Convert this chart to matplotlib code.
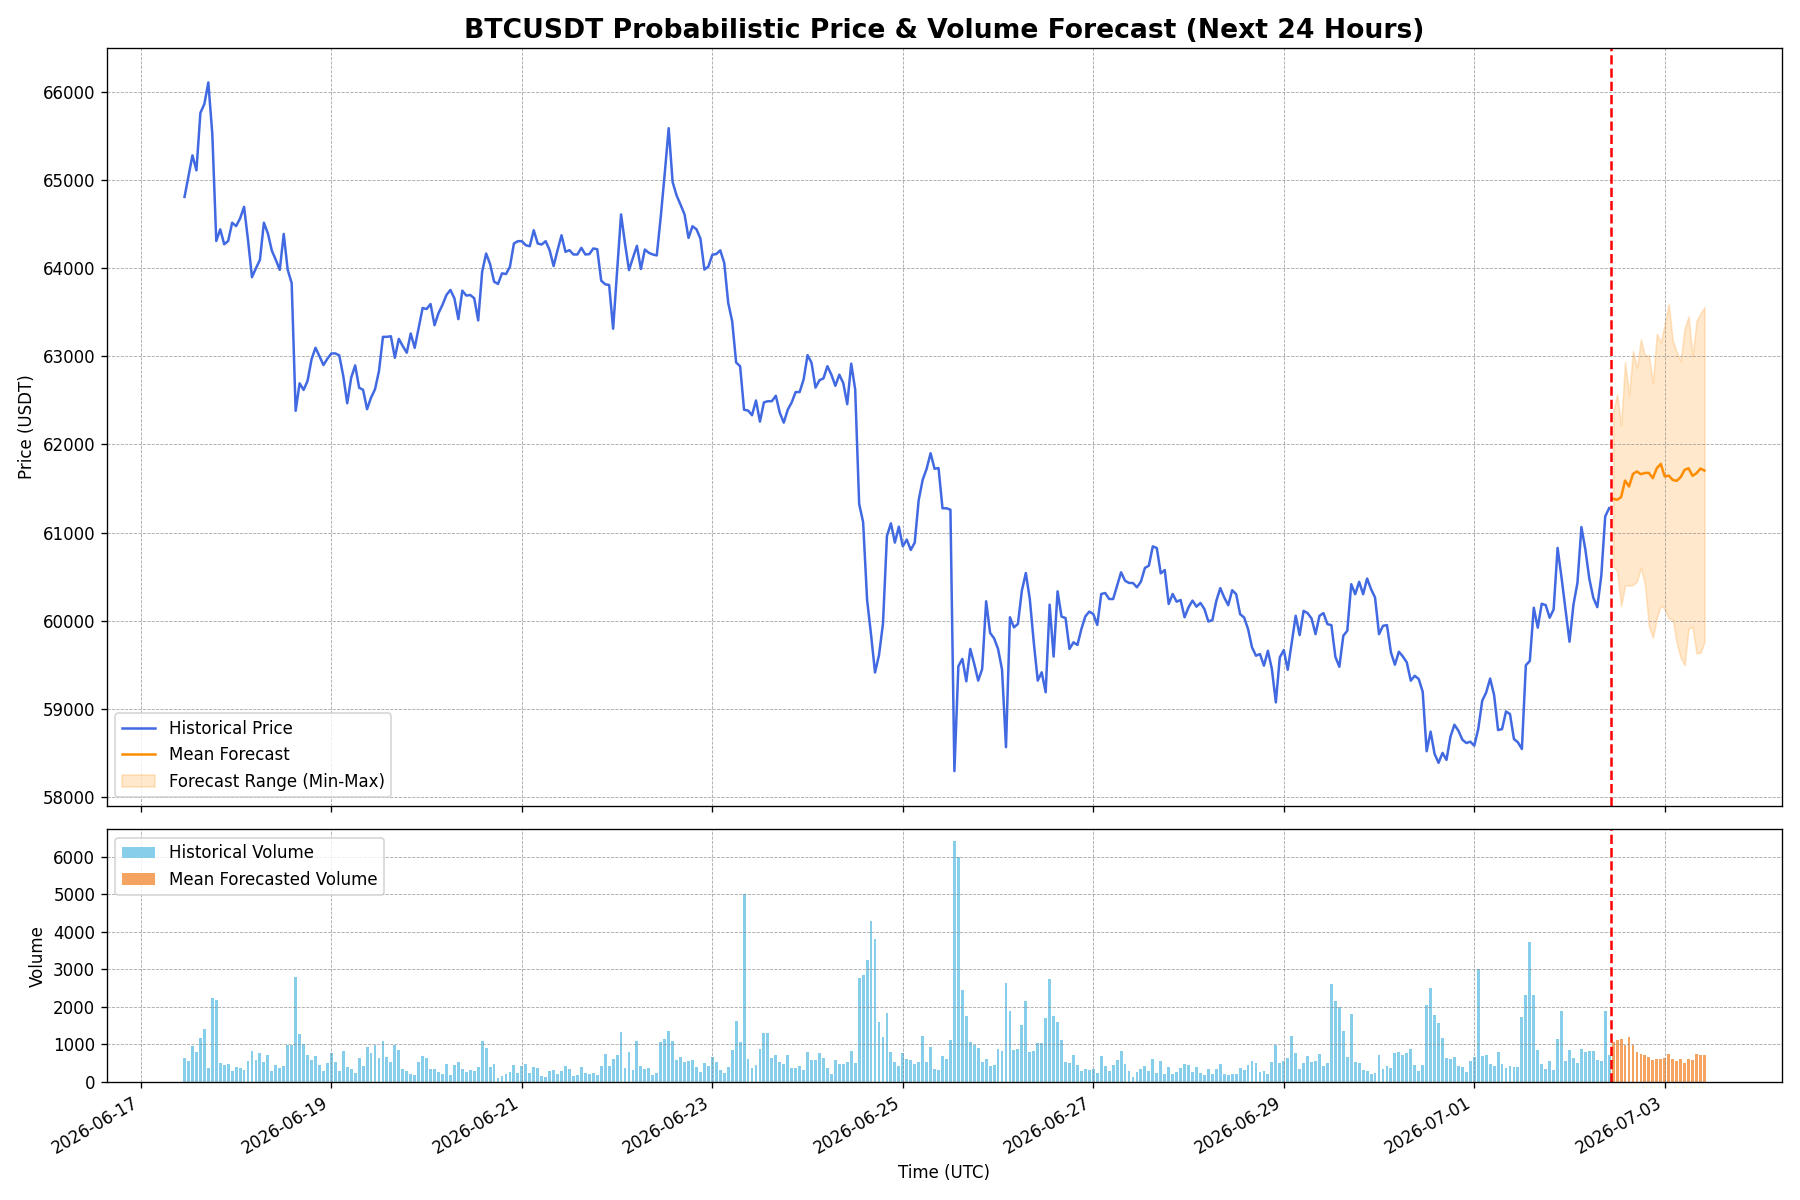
import numpy as np
import pandas as pd
import matplotlib
matplotlib.use('Agg')
import matplotlib.pyplot as plt

# ==== DATA ====
hist_start = '2026-06-17 11:00'

hist_price = [
    64807, 65044, 65278, 65108, 65759, 65861, 66105, 65522, 64307, 64439,
    64270, 64307, 64514, 64476, 64563, 64694, 64318, 63897, 63998, 64093,
    64514, 64394, 64198, 64093, 63980, 64387, 63980, 63829, 62381, 62693,
    62618, 62720, 62964, 63096, 63001, 62900, 62972, 63032, 63032, 63009,
    62776, 62467, 62757, 62896, 62644, 62618, 62400, 62531, 62625, 62832,
    63220, 63220, 63227, 62983, 63197, 63115, 63040, 63258, 63096, 63322,
    63547, 63536, 63592, 63352,
    63489, 63583, 63695, 63752, 63658, 63421, 63744, 63688, 63695, 63658,
    63406, 63959, 64165, 64045, 63846, 63820, 63940, 63932, 64015, 64278,
    64305, 64305, 64259, 64248, 64429, 64278, 64267, 64305, 64203, 64023,
    64203, 64372, 64184, 64203, 64154, 64154, 64229, 64154, 64158, 64222,
    64214, 63857, 63816, 63808, 63312, 63960, 64609, 64278, 63977, 64117,
    64252, 63989, 64210, 64173, 64154, 64143, 64579, 65068, 65586, 64974,
    64823, 64718, 64609, 64342, 64474, 64440, 64335,
    63983, 64017, 64151, 64159, 64201, 64059, 63607, 63397, 62929, 62887,
    62393, 62385, 62331, 62498, 62259, 62477, 62490, 62490, 62552, 62360,
    62247, 62393, 62477, 62594, 62594, 62736, 63013, 62925, 62644, 62728,
    62749, 62887, 62791, 62665, 62791, 62695, 62456, 62916, 62623, 61326,
    61117, 60238, 59841, 59414, 59611, 59967, 60962, 61105, 60887, 61067,
    60845, 60921, 60803, 60887, 61368, 61598, 61724, 61900, 61724, 61732,
    61276, 61276, 61260,
    58295, 59484, 59568, 59314, 59681, 59511, 59322, 59454, 60221, 59862,
    59802, 59681, 59447, 58567, 60040, 59926, 59964, 60342, 60542, 60247,
    59756, 59322, 59416, 59190, 60183, 59594, 60334, 60047, 60032, 59681,
    59756, 59726, 59907, 60051, 60104, 60077, 59953, 60304, 60315, 60247,
    60247, 60398, 60550, 60455, 60429, 60429, 60380, 60444, 60599, 60625,
    60844, 60825, 60538, 60576, 60191, 60304, 60217, 60236, 60040, 60153,
    60229, 60161, 60202, 60134,
    59992, 60008, 60226, 60370, 60264, 60177, 60347, 60302, 60075, 60038,
    59906, 59698, 59604, 59623, 59491, 59660, 59453, 59075, 59585, 59668,
    59445, 59755, 60057, 59838, 60113, 60087, 60026, 59849, 60057, 60087,
    59962, 59951, 59592, 59479, 59830, 59887, 60415, 60302, 60442, 60302,
    60479, 60358, 60264, 59849, 59943, 59951, 59642, 59502, 59649, 59596,
    59528, 59321, 59377, 59340, 59196, 58521, 58743, 58491, 58389, 58502,
    58423, 58686, 58821, 58754, 58652, 58614, 58629, 58584, 58772, 59093,
    59187, 59345, 59157, 58761, 58772, 58972, 58942, 58659, 58622, 58546,
    59496, 59545, 60148, 59922, 60193, 60178, 60035, 60129, 60826, 60487,
    60129, 59763, 60185, 60430, 61063, 60807, 60475, 60261, 60155, 60506,
    61184, 61278,
]

hist_volume = [
    630, 550, 949, 790, 1162, 1402, 364, 2227, 2174, 497,
    444, 470, 284, 390, 364, 311, 550, 816, 577, 763,
    524, 710, 284, 444, 364, 417, 985, 985, 2786, 1269,
    1003, 710, 577, 683, 444, 284, 497, 763, 524, 284,
    816, 390, 337, 231, 630, 417, 923, 763, 994, 630,
    1082, 657, 524, 994, 843, 337, 284, 204, 177, 524,
    683, 630, 337, 337, 257, 204, 470, 177, 444, 524,
    337, 257, 311, 284, 390, 1082, 896, 390, 470, 98,
    151, 204, 257, 444, 231, 417, 470, 231, 390, 364,
    151, 124, 284, 311, 204, 284, 417, 337, 151, 177,
    390, 231, 204, 231, 177, 417, 736, 417, 603, 710,
    1322, 364, 790, 311, 1082, 417, 337, 364, 177, 231,
    1056, 1136, 1349, 1082, 577, 657, 524,
    550, 577, 390, 257, 497, 417, 657, 524, 311, 231,
    390, 843, 1615, 1056, 4996, 603, 364, 444, 870, 1295,
    1295, 630, 710, 524, 470, 710, 364, 364, 417, 311,
    790, 577, 577, 763, 630, 364, 204, 577, 470, 470,
    524, 816, 497, 2760, 2839, 3239, 4277, 3798, 1588, 1189,
    1828, 790, 524, 417, 763, 603, 577, 470, 524, 1216,
    524, 923, 337, 311, 683, 603, 1109, 6406, 5998, 2440,
    1748, 1056, 994, 896, 524, 603, 417, 444, 870, 816,
    2626, 1881, 843, 870, 1508, 2147, 790, 816, 1029, 1029,
    1695, 2733, 1748, 1588, 1109, 524, 497, 710, 444, 284,
    337, 311, 337, 231, 683, 417, 284, 444, 577, 816,
    470, 284, 124, 257, 337, 417, 284, 603, 231, 550,
    204, 390, 204, 257, 364, 470, 444, 257, 390, 231,
    177,
    337, 204, 337, 470, 204, 177, 204, 204, 364, 311,
    444, 550, 497, 257, 284, 204, 524, 976, 497, 550,
    630, 1216, 763, 337, 497, 683, 524, 550, 736, 417,
    497, 2600, 2147, 1988, 1349, 657, 1801, 524, 497, 311,
    284, 204, 231, 710, 337, 417, 364, 763, 790, 710,
    763, 870, 444, 284, 444, 2041, 2493, 1775, 1562, 1162,
    630, 603, 657, 417, 390, 257, 550, 657, 2999, 683,
    710, 470, 417, 790, 470, 364, 417, 390, 390, 1721,
    2307, 3718, 2307, 843, 470, 337, 550, 311, 1136, 1881,
    550, 843, 630, 497, 870, 790, 816, 816, 577, 550,
    1881, 710,
]

fc_mean = [
    61384, 61372, 61402, 61590, 61523, 61666, 61693, 61662, 61677, 61677,
    61617, 61730, 61779, 61636, 61647, 61598, 61587, 61628, 61711, 61730,
    61644, 61674, 61726, 61704,
]
fc_max = [
    62371, 62570, 62220, 62936, 62559, 63060, 62872, 63192, 63011, 63011,
    62699, 63256, 63154, 63369, 63595, 63181, 63049, 62947, 63313, 63452,
    63000, 63399, 63482, 63558,
]
fc_min = [
    60619, 60562, 60167, 60400, 60400, 60404, 60449, 60600, 60411, 59940,
    59808, 60035, 60174, 60137, 60024, 60016, 59752, 59582, 59496, 59910,
    59929, 59631, 59639, 59759,
]
fc_volume = [
    1056, 1109, 1136, 976, 1189, 976, 790, 736, 710, 657,
    577, 603, 603, 630, 736, 603, 550, 603, 497, 603,
    577, 736, 710, 710,
]
# ========================

hist_t = pd.date_range(hist_start, periods=len(hist_price), freq='h')
fc_t = pd.date_range(hist_t[-1] + pd.Timedelta(hours=1), periods=len(fc_mean), freq='h')
split_t = hist_t[-1] + pd.Timedelta(minutes=30)

fig, (ax1, ax2) = plt.subplots(2, 1, figsize=(15, 10), dpi=120, sharex=True,
                               gridspec_kw={'height_ratios': [3, 1]})

# price panel
ax1.plot(hist_t, hist_price, color='royalblue', lw=1.5, label='Historical Price')
ax1.plot(fc_t, fc_mean, color='darkorange', lw=1.5, label='Mean Forecast')
ax1.fill_between(fc_t, fc_min, fc_max, color='darkorange', alpha=0.2,
                 label='Forecast Range (Min-Max)')
ax1.axvline(split_t, color='red', linestyle='--', lw=1.5)
ax1.set_title('BTCUSDT Probabilistic Price & Volume Forecast (Next 24 Hours)',
              fontsize=16, fontweight='bold')
ax1.set_ylabel('Price (USDT)')
ax1.grid(True, linestyle='--', linewidth=0.5, color='gray', alpha=0.7)
ax1.legend(loc='lower left')

# volume panel
ax2.bar(hist_t, hist_volume, width=0.03, color='skyblue', label='Historical Volume')
ax2.bar(fc_t, fc_volume, width=0.03, color='sandybrown', label='Mean Forecasted Volume')
ax2.axvline(split_t, color='red', linestyle='--', lw=1.5)
ax2.set_ylabel('Volume')
ax2.set_xlabel('Time (UTC)')
ax2.grid(True, linestyle='--', linewidth=0.5, color='gray', alpha=0.7)
ax2.legend(loc='upper left')

plt.setp(ax2.get_xticklabels(), rotation=30, ha='right')
plt.tight_layout()
plt.savefig('out.png')
